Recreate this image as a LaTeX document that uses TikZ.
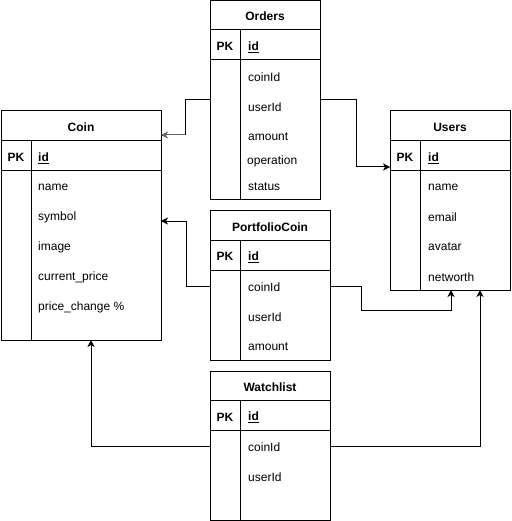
\documentclass[tikz,border=0pt]{standalone}
\usepackage{fontspec}
\setmainfont{Liberation Sans}
\usetikzlibrary{arrows.meta}
\begin{document}
\begin{tikzpicture}[x=1pt,y=-1pt,
  tbl/.style={draw, line width=1pt, inner sep=0pt, outer sep=0pt, anchor=north west},
  sep/.style={line width=1pt},
  ttl/.style={font=\fontsize{12}{14}\selectfont\bfseries, inner sep=0pt},
  pk/.style={font=\fontsize{12}{14}\selectfont\bfseries, inner sep=0pt},
  fld/.style={font=\fontsize{12}{14}\selectfont, inner sep=0pt, anchor=west},
  line/.style={line width=1pt},
  conn/.style={line width=1pt, -{Stealth[length=7pt,width=7pt,inset=2pt]}},
  greyc/.style={color=black!60}]
\useasboundingbox (0,0) rectangle (511,521);

% ---------- Orders ----------
\node[tbl, minimum width=110pt, minimum height=199pt] (orders) at (210,1) {};
\draw[sep] (210,30) -- (320,30);
\draw[sep] (210,60) -- (320,60);
\draw[sep] (240,30) -- (240,200);
\node[ttl] (o-t) at (265,16) {Orders};
\node[pk] (o-pk) at (225,46) {PK};
\node[fld,font=\fontsize{12}{14}\selectfont\bfseries] (o-id) at (248,47) {\underline{id}};
\node[fld] (o-coinId) at (248,77) {coinId};
\node[fld] (o-userId) at (248,107) {userId};
\node[fld] (o-amount) at (248,137) {amount};
\node[fld] (o-operation) at (247,161) {operation};
\node[fld] (o-status) at (248,187) {status};

% ---------- Coin ----------
\node[tbl, minimum width=160pt, minimum height=229pt] (coin) at (1,111) {};
\draw[sep] (1,141) -- (161,141);
\draw[sep] (1,171) -- (161,171);
\draw[sep] (31,141) -- (31,340);
\node[ttl] (c-t) at (81,127) {Coin};
\node[pk] (c-pk) at (16,157) {PK};
\node[fld,font=\fontsize{12}{14}\selectfont\bfseries] (c-id) at (38,158) {\underline{id}};
\node[fld] (c-name) at (38,187) {name};
\node[fld] (c-symbol) at (38,217) {symbol};
\node[fld] (c-image) at (38,247) {image};
\node[fld] (c-price) at (38,277) {current\_price};
\node[fld] (c-change) at (38,307) {price\_change \%};

% ---------- Users ----------
\node[tbl, minimum width=120pt, minimum height=179pt] (users) at (390,111) {};
\draw[sep] (390,141) -- (510,141);
\draw[sep] (390,171) -- (510,171);
\draw[sep] (420,141) -- (420,290);
\node[ttl] (u-t) at (450,127) {Users};
\node[pk] (u-pk) at (405,157) {PK};
\node[fld,font=\fontsize{12}{14}\selectfont\bfseries] (u-id) at (428,158) {\underline{id}};
\node[fld] (u-name) at (428,187) {name};
\node[fld] (u-email) at (428,217) {email};
\node[fld] (u-avatar) at (428,247) {avatar};
\node[fld] (u-networth) at (428,277) {networth};

% ---------- PortfolioCoin ----------
\node[tbl, minimum width=120pt, minimum height=150pt] (pcoin) at (210,210) {};
\draw[sep] (210,240) -- (330,240);
\draw[sep] (210,270) -- (330,270);
\draw[sep] (240,240) -- (240,360);
\node[ttl] (p-t) at (270,227) {PortfolioCoin};
\node[pk] (p-pk) at (225,256) {PK};
\node[fld,font=\fontsize{12}{14}\selectfont\bfseries] (p-id) at (248,257) {\underline{id}};
\node[fld] (p-coinId) at (248,287) {coinId};
\node[fld] (p-userId) at (248,317) {userId};
\node[fld] (p-amount) at (248,347) {amount};

% ---------- Watchlist ----------
\node[tbl, minimum width=120pt, minimum height=149pt] (watch) at (210,371) {};
\draw[sep] (210,400) -- (330,400);
\draw[sep] (210,430) -- (330,430);
\draw[sep] (240,400) -- (240,520);
\node[ttl] (w-t) at (270,387) {Watchlist};
\node[pk] (w-pk) at (225,417) {PK};
\node[fld,font=\fontsize{12}{14}\selectfont\bfseries] (w-id) at (248,417) {\underline{id}};
\node[fld] (w-coinId) at (248,447) {coinId};
\node[fld] (w-userId) at (248,477) {userId};

% ---------- Connectors ----------
% Orders -> Coin
\coordinate (ocbend) at (185,135);
\draw[line] (orders.west |- 0,100) -- (185,100) -- (ocbend);
\draw[conn,greyc] (ocbend) -- (coin.east |- ocbend);
% Orders -> Users
\draw[conn] (orders.east |- 0,100) -- (356,100) -- (356,167) -- (users.west |- 0,167);
% PortfolioCoin -> Coin
\draw[conn] (pcoin.west |- 0,286) -- (186,286) -- (186,221) -- (coin.east |- 0,221);
% PortfolioCoin -> Users
\draw[conn] (pcoin.east |- 0,286) -- (361,286) -- (361,310) -- (451,310) -- (users.south -| 451,0);
% Watchlist -> Coin
\draw[conn] (watch.west |- 0,446) -- (91,446) -- (coin.south -| 91,0);
% Watchlist -> Users
\draw[conn] (watch.east |- 0,446) -- (480,446) -- (users.south -| 480,0);
\end{tikzpicture}
\end{document}
